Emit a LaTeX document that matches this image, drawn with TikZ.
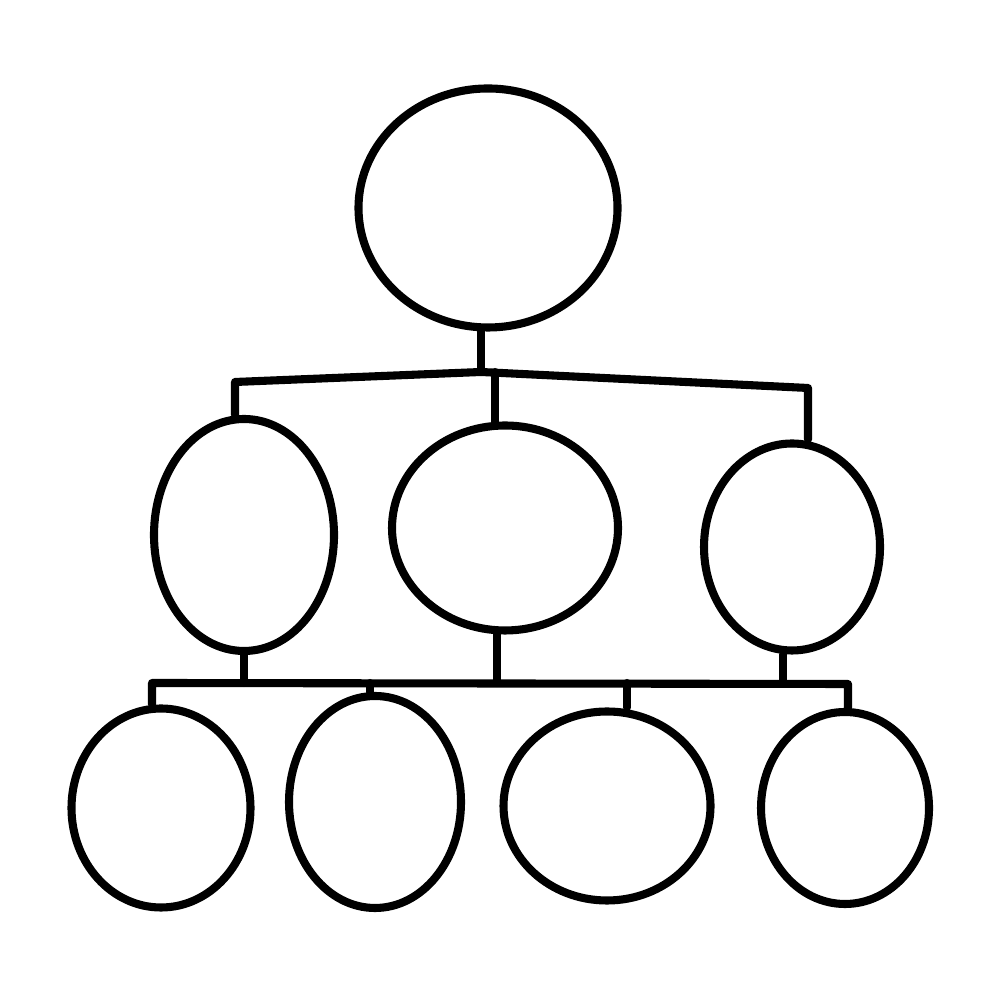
\documentclass[tikz,border=0pt]{standalone}
\usepackage{tikz}
\usetikzlibrary{calc,positioning,shapes}
\tikzset{
chart/.style={line width=2.3pt,line cap=round,line join=round},
bubble/.style={ellipse,draw,inner sep=0pt,minimum width=#1},
bubble/.default={2cm},
}

\begin{document}
\begin{tikzpicture}[chart]
                    \useasboundingbox (0,0) rectangle (10,10);
                    \node[bubble=2.59cm,minimum height=2.39cm] (top) at (4.88,7.92) {};
                    \node[bubble=1.80cm,minimum height=2.32cm] (ml) at (2.44,4.65) {};
                    \node[bubble=2.26cm,minimum height=2.05cm] (mm) at (5.05,4.72) {};
                    \node[bubble=1.76cm,minimum height=2.07cm] (mr) at (7.92,4.53) {};
                    \node[bubble=1.79cm,minimum height=1.99cm] (b1) at (1.61,1.92) {};
                    \node[bubble=1.72cm,minimum height=2.12cm] (b2) at (3.75,1.98) {};
                    \node[bubble=2.07cm,minimum height=1.89cm] (b3) at (6.07,1.94) {};
                    \node[bubble=1.68cm,minimum height=1.92cm] (b4) at (8.45,1.92) {};

                    \coordinate (t0) at (4.81,6.28);
                    \coordinate (c1) at (2.35,6.18);
                    \coordinate (c2) at (8.08,6.12);
                    \coordinate (u1) at (1.52,3.17);
                    \coordinate (u4) at (8.48,3.16);

                    \draw (top.south -| t0) -- (t0);
                    \draw (ml.north -| c1) -- (c1) -- (t0) -- (c2) -- (mr.north -| c2);
                    \draw ([xshift=-1mm]mm.north) -- ([xshift=-1mm]mm.north |- t0);
                    \draw (ml.south) -- (ml.south |- u1);
                    \draw ([xshift=-0.8mm]mm.south) -- ([xshift=-0.8mm]mm.south |- u1);
                    \draw ([xshift=-0.9mm]mr.south) -- ([xshift=-0.9mm]mr.south |- u1);
                    \draw (b1.north -| u1) -- (u1) -- (u4) -- (b4.north -| u4);
                    \draw ([xshift=-0.5mm]b2.north) -- ([xshift=-0.5mm]b2.north |- u1);
                    \draw ([xshift=2mm]b3.north) -- ([xshift=2mm]b3.north |- u1);
                \end{tikzpicture}
\end{document}
